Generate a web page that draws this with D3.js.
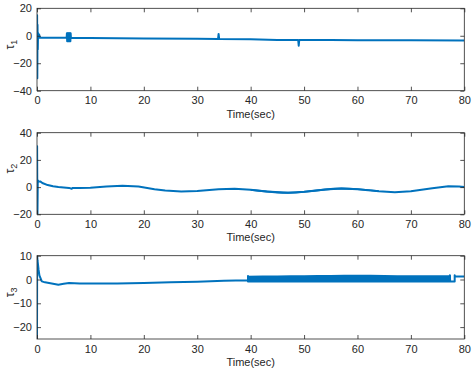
<!DOCTYPE html>
<html><head><meta charset="utf-8">
<script src="https://cdn.jsdelivr.net/npm/d3@7"></script>
<style>
html,body{margin:0;padding:0;background:#fff;}
svg{display:block;}
text{font-family:"Liberation Sans",Arial,Helvetica,sans-serif;fill:#262626;}
</style></head>
<body>
<script>
// ---- data ----
const xTicks = [0,10,20,30,40,50,60,70,80];
const yTicks1 = [-40,-20,0,20];
const yTicks2 = [-20,0,20,40];
const yTicks3 = [-20,-10,0,10];
const yLabels = ["1","2","3"];

// tau1: [time, value]
const tau1 = [[0,0],[0.02,15],[0.06,-31],[0.1,8],[0.15,-10],[0.2,2],[0.3,-1],[0.4,1],[0.5,-1.4],[1,-1.5],[3,-1.4],[5.55,-1.5],
 [5.6,1.8],[5.65,-4],[5.7,1.8],[5.75,-4],[5.8,1.8],[5.85,-4],[5.9,1.8],[5.95,-4],[6.0,1.8],[6.05,-4],[6.1,1.8],[6.15,-4],[6.2,1.8],[6.25,-4],[6.3,1.8],[6.35,-1.5],
 [10,-1.6],[20,-1.9],[30,-2.2],[33.9,-2.3],[34,1.3],[34.1,-2.3],[40,-2.6],[45,-3],[48.9,-3.1],[49,-7.2],[49.1,-3.1],[55,-3.1],[60,-3.2],[70,-3.3],[80,-3.5]];

// tau2: [time, value]
const tau2 = [[0,0],[0.02,30],[0.08,-22],[0.15,5],[0.3,4],[0.6,4.2],[1,3],[2,1.5],[3,0.6],[4,0],[6,-0.6],[6.5,-1.2],[6.7,-0.6],[8,-0.6],[10,-0.5],[13,0.4],[16,1],[19,0.4],[22,-1.5],[24,-2.5],[27,-3.2],[30,-2.8],[34,-1.5],[37,-1.2],[40,-2],[43,-3.2],[47,-4.2],[50,-3.5],[54,-1.8],[57,-1],[60,-1.5],[64,-3],[67,-3.7],[70,-3],[74,-0.8],[77,0.6],[79,0.5],[80,0]];
// tau2 chattering band
const band2T  = [40,43,47,50,54,57,60,64];
const band2Lo = [-2.6,-3.9,-4.9,-4.2,-2.5,-1.7,-2.2,-3.6];
const band2Hi = [-1.4,-2.5,-3.5,-2.8,-1.1,-0.3,-0.8,-2.4];

// tau3: [time, value]
const tau3 = [[0,-25],[0.03,10],[0.1,8],[0.3,4],[0.45,1.7],[0.9,-0.8],[1.5,-1.2],[2.5,-1.6],[4,-2.2],[5,-1.8],[6,-1.5],[8,-1.7],[15,-1.7],[20,-1.5],[25,-1.2],[30,-0.9],[35,-0.5],[39.5,-0.3],[39.5,1.5],[39.5,-0.8],
 [77.3,-0.8],[77.3,1.8],[77.35,-0.8],[78.2,-0.8],[78.2,1.8],[78.25,1.3],[80,1.3]];
// tau3 chattering band
const band3T  = [39.5,45,50,55,60,65,70,77.5];
const band3Lo = [-0.8,-1.0,-1.0,-0.9,-0.8,-0.8,-0.8,-0.8];
const band3Hi = [1.6,1.7,1.8,1.9,2.0,1.9,1.8,1.8];

// ---- drawing ----
const W = 474, H = 372;
const svg = d3.select("body").append("svg").attr("width",W).attr("height",H);
const x = d3.scaleLinear().domain([0,80]).range([37,464.3]);
const color = "#0072BD";

const panels = [
  {data:tau1, dom:[-40,20], top:8.3, bot:90.7, ticks:yTicks1, band:null},
  {data:tau2, dom:[-20,40], top:132.7, bot:214.3, ticks:yTicks2, band:[band2T,band2Lo,band2Hi]},
  {data:tau3, dom:[-25,10], top:255.7, bot:339, ticks:yTicks3, band:[band3T,band3Lo,band3Hi]}
];

panels.forEach((p,i)=>{
  const y = d3.scaleLinear().domain(p.dom).range([p.bot,p.top]);
  const g = svg.append("g");
  const cid = "clip"+i;
  svg.append("clipPath").attr("id",cid).append("rect")
    .attr("x",x.range()[0]).attr("y",p.top).attr("width",x.range()[1]-x.range()[0]).attr("height",p.bot-p.top);
  const plot = g.append("g").attr("clip-path","url(#"+cid+")");
  if(p.band){
    const [bt,lo,hi] = p.band;
    const bd = bt.map((t,k)=>({t, lo:lo[k], hi:hi[k]}));
    plot.append("path").datum(bd)
      .attr("d", d3.area().x(d=>x(d.t)).y0(d=>y(d.lo)).y1(d=>y(d.hi)).curve(d3.curveMonotoneX))
      .attr("fill",color);
  }
  plot.append("path").datum(p.data)
    .attr("d", d3.line().x(d=>x(d[0])).y(d=>y(d[1])))
    .attr("fill","none").attr("stroke",color).attr("stroke-width",2).attr("stroke-linejoin","round");

  // axes (ticks inward, box)
  const tl = 4;
  const bottom = d3.axisBottom(x).tickValues(xTicks).tickSize(-tl).tickPadding(6).tickFormat(d3.format("d"));
  const top = d3.axisTop(x).tickValues(xTicks).tickSize(-tl).tickFormat("");
  const left = d3.axisLeft(y).tickValues(p.ticks).tickSize(-tl).tickPadding(5).tickFormat(d3.format("d"));
  const right = d3.axisRight(y).tickValues(p.ticks).tickSize(-tl).tickFormat("");
  const styleAx = s => { s.selectAll(".domain").attr("stroke","#262626").attr("stroke-width",0.8);
    s.selectAll(".tick line").attr("stroke","#262626").attr("stroke-width",0.8);
    s.selectAll("text").attr("font-size","11px").attr("fill","#262626")
      .attr("font-family","Liberation Sans, Arial, sans-serif"); };
  g.append("g").attr("transform",`translate(0,${p.bot})`).call(bottom).call(styleAx);
  g.append("g").attr("transform",`translate(0,${p.top})`).call(top).call(styleAx);
  g.append("g").attr("transform",`translate(${x.range()[0]},0)`).call(left).call(styleAx);
  g.append("g").attr("transform",`translate(${x.range()[1]},0)`).call(right).call(styleAx);
  g.selectAll(".domain").attr("d", null);
  g.append("rect").attr("x",x.range()[0]).attr("y",p.top).attr("width",x.range()[1]-x.range()[0]).attr("height",p.bot-p.top)
    .attr("fill","none").attr("stroke","#262626").attr("stroke-width",0.8);

  g.append("text").attr("x",(x.range()[0]+x.range()[1])/2).attr("y",p.bot+27)
    .attr("text-anchor","middle").attr("font-size","11px").text("Time(sec)");
  const yl = g.append("text").attr("transform",`translate(14,${(p.top+p.bot)/2 - 5}) rotate(-90)`)
    .attr("text-anchor","middle").attr("font-size","12px");
  yl.append("tspan").text("τ");
  yl.append("tspan").attr("font-size","9px").attr("dy",3).text(yLabels[i]);
});
</script>
</body></html>
